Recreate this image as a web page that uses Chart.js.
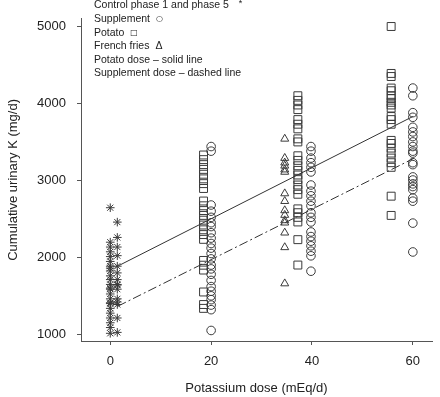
<!DOCTYPE html>
<html><head><meta charset="utf-8">
<script src="https://cdn.jsdelivr.net/npm/chart.js@4/dist/chart.umd.min.js"></script>
<style>html,body{margin:0;padding:0;background:#fff}#wrap{width:440px;height:397px;position:relative}</style>
</head><body><div id="wrap"><canvas id="c"></canvas></div>
<script>
// ---- data ----
const xTicks = [0, 20, 40, 60];
const yTicks = [1000, 2000, 3000, 4000, 5000];

// display doses (groups are slightly offset around the nominal dose)
const controlDoses = [0, 1.4];
const supplementDoses = [20, 39.8, 60];
const potatoDoses = [18.5, 37.2, 55.7];
const friesDose = 34.6;

const control0 = [2645,2197,2134,2072,2010,1947,1885,1860,1823,1760,1711,1648,1600,1586,1524,1461,1410,1399,1337,1275,1212,1150,1088,1013];
const control1 = [2458,2259,2134,2022,1885,1798,1711,1648,1640,1586,1461,1420,1387,1212,1025];

const supplement20 = [3440,3380,2680,2600,2520,2450,2400,2320,2250,2180,2120,2050,1980,1900,1850,1780,1700,1620,1560,1500,1450,1380,1320,1050];
const supplement40 = [3440,3380,3290,3230,3170,3110,2940,2860,2800,2730,2670,2580,2520,2460,2330,2270,2210,2150,2080,2020,1820];
const supplement60 = [4200,4100,3880,3820,3690,3630,3570,3500,3440,3380,3355,3230,3205,3045,3005,2955,2920,2880,2770,2730,2445,2070];

const potato20 = [3330,3270,3205,3143,3080,3020,2958,2895,2732,2670,2608,2545,2483,2420,2358,2296,2234,1960,1898,1835,1550,1387,1337];
const potato40 = [4100,4040,3980,3920,3790,3730,3670,3540,3500,3320,3260,3190,3130,3070,3010,2940,2880,2820,2630,2580,2520,2460,2230,1900];
const potato60 = [5000,4390,4350,4200,4165,4100,4065,4015,3980,3940,3830,3790,3730,3520,3480,3420,3355,3290,3230,3170,2795,2545];

const fries40 = [3540,3290,3230,3190,3140,3110,2830,2730,2610,2550,2480,2450,2320,2130,1660];

const potatoLineX = [1, 60];
const potatoLineY = [1870, 3830];
const supplementLineX = [1.5, 60];
const supplementLineY = [1365, 3280];

const legendLines = [
  ['Control phase 1 and phase 5', '*'],
  ['Supplement', '\u25CB'],
  ['Potato', '\u25A1'],
  ['French fries', '\u0394'],
  ['Potato dose \u2013 solid line', ''],
  ['Supplement dose \u2013 dashed line', '']
];

// ---- build datasets ----
const pts = (x, arr) => arr.map(v => ({x: x, y: v}));
const ink = '#3a3a3a';
const sc = (data, style, r) => ({type:'scatter', data, pointStyle: style, pointRadius: r, pointHoverRadius: r,
  borderColor: ink, backgroundColor: 'rgba(0,0,0,0)', pointBorderWidth: 1, borderWidth: 1});

const datasets = [
  sc(pts(controlDoses[0], control0).concat(pts(controlDoses[1], control1)), 'star', 4.3),
  sc(pts(supplementDoses[0], supplement20).concat(pts(supplementDoses[1], supplement40), pts(supplementDoses[2], supplement60)), 'circle', 4.3),
  sc(pts(potatoDoses[0], potato20).concat(pts(potatoDoses[1], potato40), pts(potatoDoses[2], potato60)), 'rect', 5.6),
  sc(pts(friesDose, fries40), 'triangle', 4.6),
  {type:'line', data: potatoLineX.map((x,i)=>({x, y: potatoLineY[i]})), borderColor: '#333', borderWidth: 1, pointRadius: 0, fill:false},
  {type:'line', data: supplementLineX.map((x,i)=>({x, y: supplementLineY[i]})), borderColor: '#333', borderWidth: 1, borderDash:[9,3,2,3], pointRadius: 0, fill:false}
];

const FONT = "'Liberation Sans', Arial, sans-serif";

const legendPlugin = {
  id: 'textLegend',
  afterDraw(chart) {
    const ctx = chart.ctx;
    ctx.save();
    ctx.fillStyle = '#222';
    ctx.textBaseline = 'middle';
    ctx.textAlign = 'left';
    legendLines.forEach((ln, i) => {
      const y = 5.5 + i * 13.6;
      ctx.font = '10.5px ' + FONT;
      ctx.fillText(ln[0], 94, y);
      const w = ctx.measureText(ln[0]).width;
      if (ln[1] === '*') {
        ctx.font = '9px ' + FONT;
        ctx.fillText('*', 94 + w + 10, y - 2);
      } else if (ln[1] === '\u0394') {
        ctx.font = '10.5px ' + FONT;
        ctx.fillText(ln[1], 94 + w + 6, y);
      } else if (ln[1]) {
        ctx.font = '8px ' + "'DejaVu Sans', sans-serif";
        ctx.fillText(ln[1], 94 + w + 6, y);
      }
    });
    ctx.restore();
  }
};

new Chart(document.getElementById('c'), {
  data: { datasets },
  options: {
    responsive: true, maintainAspectRatio: false, animation: false,
    layout: { padding: { left: 0, top: 5, right: 8, bottom: 0 } },
    plugins: { legend: { display: false }, tooltip: { enabled: false } },
    scales: {
      x: {
        type: 'linear', min: -5.8, max: 63.8,
        afterBuildTicks: s => { s.ticks = xTicks.map(v => ({value: v})); },
        afterFit: s => { s.height = 56; },
        grid: { drawOnChartArea: false, drawTicks: true, tickLength: 4, color: '#555' },
        border: { display: true, color: '#555', width: 1 },
        ticks: { color: '#222', font: { family: FONT, size: 13 }, padding: 9, maxRotation: 0, callback: v => String(v) },
        title: { display: true, text: 'Potassium dose (mEq/d)', color: '#222', font: { family: FONT, size: 13 }, padding: { top: 0, bottom: 1 } }
      },
      y: {
        type: 'linear', min: 913, max: 5100,
        afterBuildTicks: s => { s.ticks = yTicks.map(v => ({value: v})); },
        afterFit: s => { s.width = 81; },
        grid: { drawOnChartArea: false, drawTicks: true, tickLength: 4, color: '#555' },
        border: { display: true, color: '#555', width: 1 },
        ticks: { color: '#222', font: { family: FONT, size: 13 }, padding: 11, callback: v => String(v) },
        title: { display: true, text: 'Cumulative urinary K (mg/d)', color: '#222', font: { family: FONT, size: 13 }, padding: { top: 6, bottom: 0 } }
      }
    }
  },
  plugins: [legendPlugin]
});
</script></body></html>
